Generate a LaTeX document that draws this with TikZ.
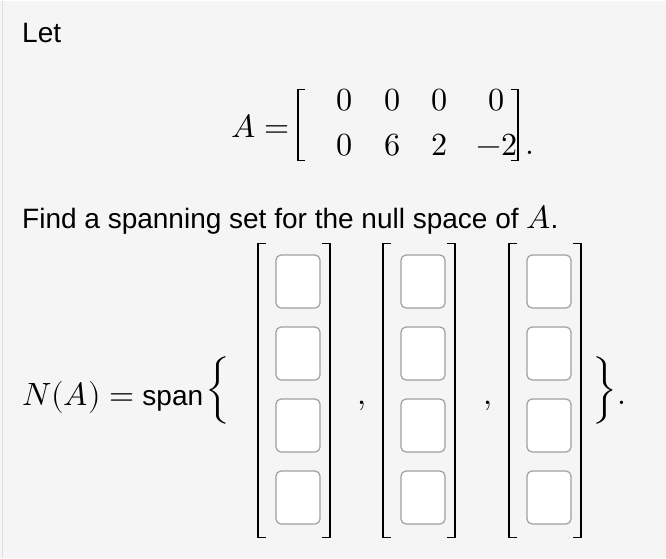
\documentclass[tikz,border=0pt]{standalone}
\usepackage{fontspec}
\setmainfont{Liberation Sans}
\usepackage{unicode-math}
\setmathfont{Latin Modern Math}[Scale=1.15]
\begin{document}
\begin{tikzpicture}[x=1pt,y=-1pt,
  txt/.style={anchor=base west,inner sep=0,font=\fontsize{28}{32}\selectfont},
  mth/.style={anchor=base,inner sep=0,font=\fontsize{28}{32}\selectfont},
  brk/.style={line width=1.8pt},
  inbox/.style={draw=gray!75,fill=white,rounded corners=5pt,line width=1.2pt,minimum width=44pt,minimum height=53pt,inner sep=0}]
\fill[gray!8] (0,0) rectangle (666,557);
\draw[gray!25,line width=1pt] (2.5,0) -- (2.5,557);
\useasboundingbox (0,0) rectangle (666,557);
\node[txt] (let) at (22,42) {Let};
\node[mth,anchor=base east] (aeq) at (290,137) {$A=$};
\draw[brk] (305,89) -- (298,89) -- (298,160) -- (305,160);
\draw[brk] (511,89) -- (518,89) -- (518,160) -- (511,160);
\foreach \x/\a/\b [count=\i] in {345/0/0,393/0/6,440/0/2,497/0/-2}{
  \node[mth] (r1c\i) at (\x,110) {$\a$};
  \node[mth] (r2c\i) at (\x,155) {$\b$};
}
\node[mth] (dot1) at (530,154) {$.$};
\node[txt] (find) at (22,228) {Find a spanning set for the null space of $A$.};
\node[txt] (na) at (22,405) {$N(A)=$ span};
\node[mth] (lb) at (218,398) {$\left\{\vphantom{\rule{0pt}{42pt}}\right.$};
\foreach \cx [count=\v] in {298,423,549}{
  \draw[brk] (\cx-32,243) -- (\cx-40,243) -- (\cx-40,537) -- (\cx-32,537);
  \draw[brk] (\cx+24,243) -- (\cx+32,243) -- (\cx+32,537) -- (\cx+24,537);
  \foreach \yy [count=\j] in {281,353,425,497}{
    \node[inbox] (b\v\j) at (\cx,\yy) {};
  }
}
\node[mth] (c1) at (362,404) {$,$};
\node[mth] (c2) at (488,404) {$,$};
\node[mth] (rb) at (604,398) {$\left.\vphantom{\rule{0pt}{42pt}}\right\}$};
\node[mth] (dot2) at (622,404) {$.$};
\end{tikzpicture}
\end{document}
